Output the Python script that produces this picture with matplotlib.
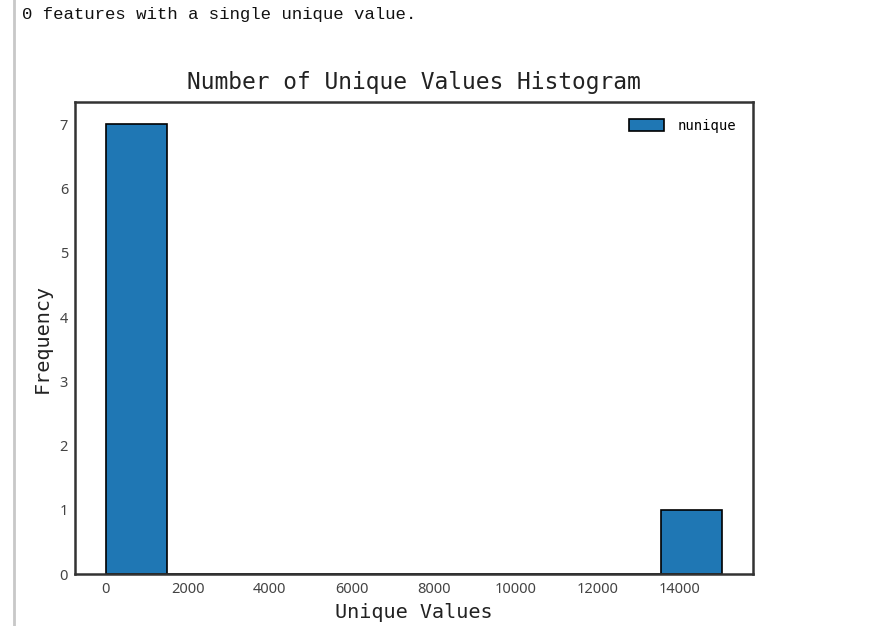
import matplotlib
matplotlib.use("Agg")
import matplotlib.pyplot as plt
from matplotlib.lines import Line2D

# number of unique values per feature (8 features)
nunique = [2, 4, 10, 24, 48, 135, 370, 15042]
bins = 10
note = "0 features with a single unique value."

fig = plt.figure(figsize=(8.75, 6.26), dpi=100)

# notebook output cell: text + left border
fig.text(22 / 875, 1 - 14 / 626, note, family="Liberation Mono", fontsize=12.5,
         va="center", ha="left", color="#111111")
fig.add_artist(Line2D([14 / 875, 14 / 875], [0, 1], color="#c8c8c8", lw=2))

ax = fig.add_axes([75 / 875, 1 - 574 / 626, (753 - 75) / 875, (574 - 102) / 626])
ax.hist(nunique, bins=bins, color="#1f77b4", edgecolor="black", linewidth=1.2,
        label="nunique")

for s in ax.spines.values():
    s.set_color("#333333")
    s.set_linewidth(1.8)

ax.tick_params(length=0, labelsize=10.5, colors="#444444")
ax.tick_params(axis="x", pad=6)
ax.tick_params(axis="y", pad=5)
for t in ax.get_xticklabels() + ax.get_yticklabels():
    t.set_family("Noto Sans")

ax.set_title("Number of Unique Values Histogram", family="DejaVu Sans Mono",
             fontsize=16.5, color="#222222", pad=9)
ax.set_xlabel("Unique Values", family="DejaVu Sans Mono", fontsize=14.5,
              color="#222222", labelpad=4)
ax.set_ylabel("Frequency", family="DejaVu Sans Mono", fontsize=14.5,
              color="#222222", labelpad=6)

ax.legend(loc="upper right", frameon=False, prop={"family": "DejaVu Sans Mono", "size": 10},
          handlelength=2.5, handleheight=0.95, handletextpad=1.0, borderaxespad=0.8)

fig.savefig("out.png", dpi=100)
